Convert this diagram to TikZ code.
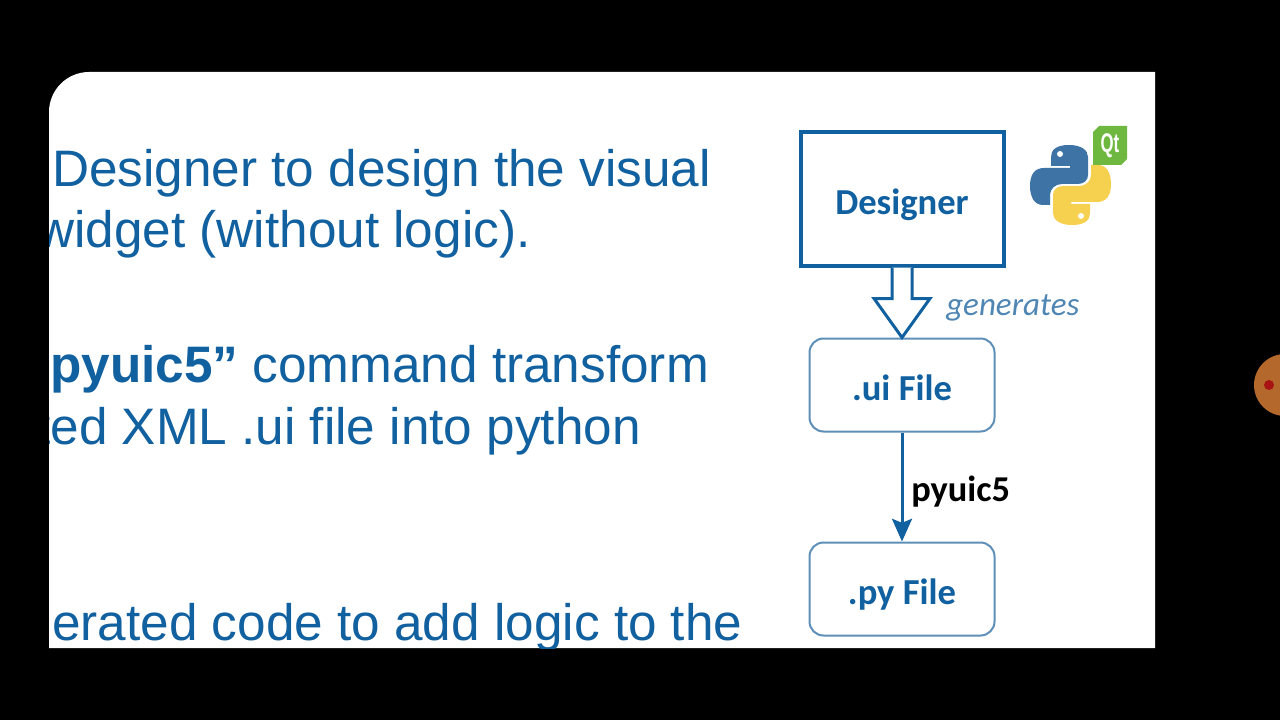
\documentclass[tikz,border=0pt]{standalone}
\usepackage{fontspec}
\setmainfont{Liberation Sans}
\newfontfamily\boxfont{Carlito}
\usetikzlibrary{arrows.meta}
\newlength{\pxu}\setlength{\pxu}{0.75pt}
\newcommand{\pxfont}[1]{\fontsize{\dimexpr#1\pxu\relax}{\dimexpr#1\pxu*12/10\relax}\selectfont}
\newcommand{\lowered}[2]{\raisebox{-#1\pxu}[\height][\depth]{#2}}
\definecolor{slideblue}{HTML}{11609F}
\definecolor{boxline}{HTML}{5E8FB8}
\definecolor{pyblue}{HTML}{3D74A5}
\definecolor{pyyellow}{HTML}{F6D04F}
\definecolor{qtgreen}{HTML}{6FB83F}
\definecolor{dotfill}{HTML}{B5682C}
\definecolor{dotred}{HTML}{A81414}
\tikzset{
 slidetext/.style={anchor=base west,inner sep=0pt,text=slideblue,font=\pxfont{51.3}},
 filebox/.style={draw=boxline,line width=2\pxu,rounded corners=14\pxu,minimum width=185\pxu,minimum height=93\pxu,text=slideblue,font=\boxfont\bfseries\pxfont{36.6}},
 designbox/.style={draw=slideblue,line width=4\pxu,minimum width=203\pxu,minimum height=133\pxu,text=slideblue,font=\boxfont\bfseries\pxfont{36.6}},
 hollowarrow/.style={draw=slideblue,line width=3\pxu,fill=white,line join=miter},
 flowarrow/.style={draw=slideblue,line width=3\pxu,-{Stealth[length=17pt,width=15pt,inset=3pt]}}
}
\begin{document}
\begin{tikzpicture}[x=0.75pt,y=-0.75pt]
\useasboundingbox (0,0) rectangle (1280,720);
\fill[black] (0,0) rectangle (1280,720);
% side dot
\fill[dotfill] (1285,385) circle (31);
\fill[dotred] (1269,385) circle (5);
% slide
\begin{scope}
\clip (49,648) -- (49,112) .. controls (49,90) and (67,72) .. (89,72) -- (1155,72) -- (1155,648) -- cycle;
\fill[white] (0,0) rectangle (1280,720);
\node[slidetext] (l1) at (52,186.5) {Designer to design the visual};
\node[slidetext] (l2) at (37,247.5) {widget (without logic).};
\node[slidetext] (l3) at (50,382.5) {\textbf{pyuic5”} command transform};
\node[slidetext] (l4) at (36,444) {ted XML .ui file into python};
\node[slidetext] (l5) at (52,640) {erated code to add logic to the};
\end{scope}
% flow
\node[designbox] (des) at (902,199) {\lowered{6}{Designer}};
\node[filebox] (ui) at (902,385) {\lowered{3}{.ui File}};
\node[filebox] (py) at (902,589) {\lowered{6}{.py File}};
\draw[hollowarrow] ([xshift=-10\pxu]des.south) -- ++(0,31) -- ++(-18,0) -- (ui.north) -- ([xshift=28\pxu,yshift=-31\pxu]des.south) -- ++(-18,0) -- ([xshift=10\pxu]des.south);
\node[anchor=base west,inner sep=0pt,text=boxline!80!slideblue,font=\boxfont\itshape\pxfont{33}] (gen) at (946,315) {generates};
\draw[flowarrow] (ui.south) -- (py.north);
\node[anchor=base west,inner sep=0pt,text=black,font=\boxfont\bfseries\pxfont{36.4}] (cmd) at (911,501.5) {pyuic5};
% python logo
\def\snake{(1069,145) .. controls (1056,145) and (1051,150) .. (1051,157) -- (1051,166) -- (1070,166) -- (1070,168) -- (1044,168) .. controls (1035,168) and (1030,174) .. (1030,186) .. controls (1030,198) and (1035,205) .. (1043,205) -- (1050,205) -- (1050,195) .. controls (1050,189) and (1055,184) .. (1062,184) -- (1078,184) .. controls (1084,184) and (1088,180) .. (1088,175) -- (1088,157) .. controls (1088,150) and (1081,145) .. (1069,145) -- cycle}
\fill[pyblue] \snake;
\fill[white] (1060,154) circle (3);
\begin{scope}[rotate around={180:(1070.5,185)}]
\fill[pyyellow] \snake;
\fill[white] (1060,154) circle (3);
\end{scope}
% Qt logo
\fill[qtgreen] (1099,126) -- (1127,126) -- (1127,159) -- (1121,165) -- (1093,165) -- (1093,132) -- cycle;
\node[text=white,inner sep=0pt,font=\bfseries\pxfont{27},xscale=.62] (qt) at (1110,146) {Qt};
\end{tikzpicture}
\end{document}
